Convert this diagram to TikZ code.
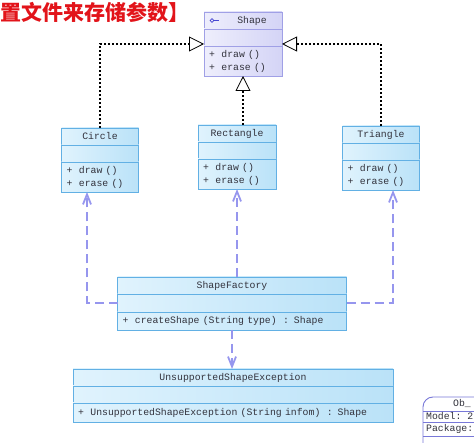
\documentclass[tikz,border=0pt]{standalone}
\usepackage{fontspec}
\setmonofont{Liberation Mono}[WordSpace={1,0,0}]
\newfontfamily\cjk{Noto Sans CJK SC}
\usetikzlibrary{arrows.meta,positioning}
\newcommand\clsfont{\ttfamily\fontsize{9.8}{13}\selectfont\spaceskip=5.88pt\relax}
\definecolor{ClsLine}{RGB}{98,176,228}
\definecolor{ClsLight}{RGB}{224,243,253}
\definecolor{ClsDeep}{RGB}{186,226,248}
\definecolor{IfLine}{RGB}{160,160,230}
\definecolor{IfLight}{RGB}{238,238,252}
\definecolor{IfDeep}{RGB}{212,212,246}
\definecolor{IfIcon}{RGB}{70,70,210}
\definecolor{DepLine}{RGB}{150,150,238}
\definecolor{ObjLine}{RGB}{120,120,216}
\definecolor{TitleRed}{RGB}{226,20,26}
\definecolor{Ink}{RGB}{50,50,60}
\tikzset{
  >=Latex,
  cls/.style={draw=ClsLine,line width=.8pt,left color=ClsLight,right color=ClsDeep,font=\clsfont,text=Ink,inner sep=0pt,outer sep=0pt,minimum height=17pt},
  iface/.style={cls,draw=IfLine,left color=IfLight,right color=IfDeep},
  ops/.style={inner xsep=5pt,align=left,minimum height=30pt},
  gen/.style={-{Triangle[fill=white,line width=.8pt,length=15pt,width=15pt]},line width=2pt,dash pattern=on 2pt off 2pt,draw=black},
  dep/.style={-{Straight Barb[length=10pt,width=8pt]},line width=1.8pt,dash pattern=on 9pt off 5pt,draw=DepLine},
  objline/.style={draw=ObjLine,line width=.9pt},
  objtext/.style={font=\clsfont,text=Ink,anchor=west,inner sep=0pt},
  title/.style={font=\cjk\bfseries\fontsize{21}{22}\selectfont,text=TitleRed,inner sep=0pt}
}
\begin{document}
\begin{tikzpicture}[x=1pt,y=-1pt]
  \useasboundingbox (0,0) rectangle (474,443);
  \clip (0,0) rectangle (474,443);
  \node[title,anchor=north west] (ttl) at (0,2) {置文件来存储参数】};

  % interface
  \node[iface,minimum width=78pt] (shp) at (243,20.5) {\hspace*{18pt}Shape};
  \node[iface,minimum width=78pt,below=0pt of shp] (shpAttr) {};
  \node[iface,ops,text width=68pt,below=0pt of shpAttr] (shpOps) {+~ draw ()\\+~ erase ()};
  \node[circle,draw=IfIcon,line width=.7pt,inner sep=1.4pt] (icon) at (212,20.5) {};
  \draw[IfIcon,line width=.7pt] (icon.east) -- ++(5,0);

  % concrete shapes
  \node[cls,minimum width=77pt] (cir) at (100,136.5) {Circle};
  \node[cls,minimum width=77pt,below=0pt of cir] (cirAttr) {};
  \node[cls,ops,text width=67pt,below=0pt of cirAttr] (cirOps) {+~ draw ()\\+~ erase ()};
  \node[cls,minimum width=78pt] (rect) at (237,133.5) {Rectangle};
  \node[cls,minimum width=78pt,below=0pt of rect] (rectAttr) {};
  \node[cls,ops,text width=68pt,below=0pt of rectAttr] (rectOps) {+~ draw ()\\+~ erase ()};
  \node[cls,minimum width=77pt] (tri) at (381,134.5) {Triangle};
  \node[cls,minimum width=77pt,below=0pt of tri] (triAttr) {};
  \node[cls,ops,text width=67pt,below=0pt of triAttr] (triOps) {+~ draw ()\\+~ erase ()};

  % factory and exception
  \node[cls,minimum width=229pt] (fac) at (232,285.5) {ShapeFactory};
  \node[cls,minimum width=229pt,minimum height=18pt,below=0pt of fac] (facAttr) {};
  \node[cls,ops,text width=219pt,minimum height=18pt,below=0pt of facAttr] (facOps) {+~ createShape (String type)~ : Shape};
  \node[cls,minimum width=320pt] (exc) at (233,377.5) {UnsupportedShapeException};
  \node[cls,minimum width=320pt,below=0pt of exc] (excAttr) {};
  \node[cls,ops,text width=310pt,minimum height=19pt,below=0pt of excAttr] (excOps) {+~ UnsupportedShapeException (String infom)~ : Shape};

  % realization
  \draw[gen] (cir.north) |- ([yshift=-6.5pt]shpAttr.west);
  \draw[gen] (tri.north) |- ([yshift=-6.5pt]shpAttr.east);
  \draw[gen] (shpOps.south |- rect.north) -- (shpOps.south);

  % dependencies
  \draw[dep] (facAttr.west) -| ([xshift=-13pt]cirOps.south);
  \draw[dep] (facAttr.east) -| ([xshift=12pt]triOps.south);
  \draw[dep] (fac.north -| rectOps.south) -- (rectOps.south);
  \draw[dep] (facOps.south) -- (facOps.south |- exc.north);

  % object box, cut by the border
  \draw[objline,fill=white,rounded corners=10pt] (423,450) |- (490,397);
  \draw[objline] (423,411) -- (480,411);
  \draw[objline] (423,422) -- (480,422);
  \draw[objline] (423,436) -- (480,436);
  \node[objtext] (obj) at (453,403.5) {Ob\_};
  \node[objtext] (objModel) at (426,416.5) {Model: 2};
  \node[objtext] (objPkg) at (426,429) {Package:};
\end{tikzpicture}
\end{document}
